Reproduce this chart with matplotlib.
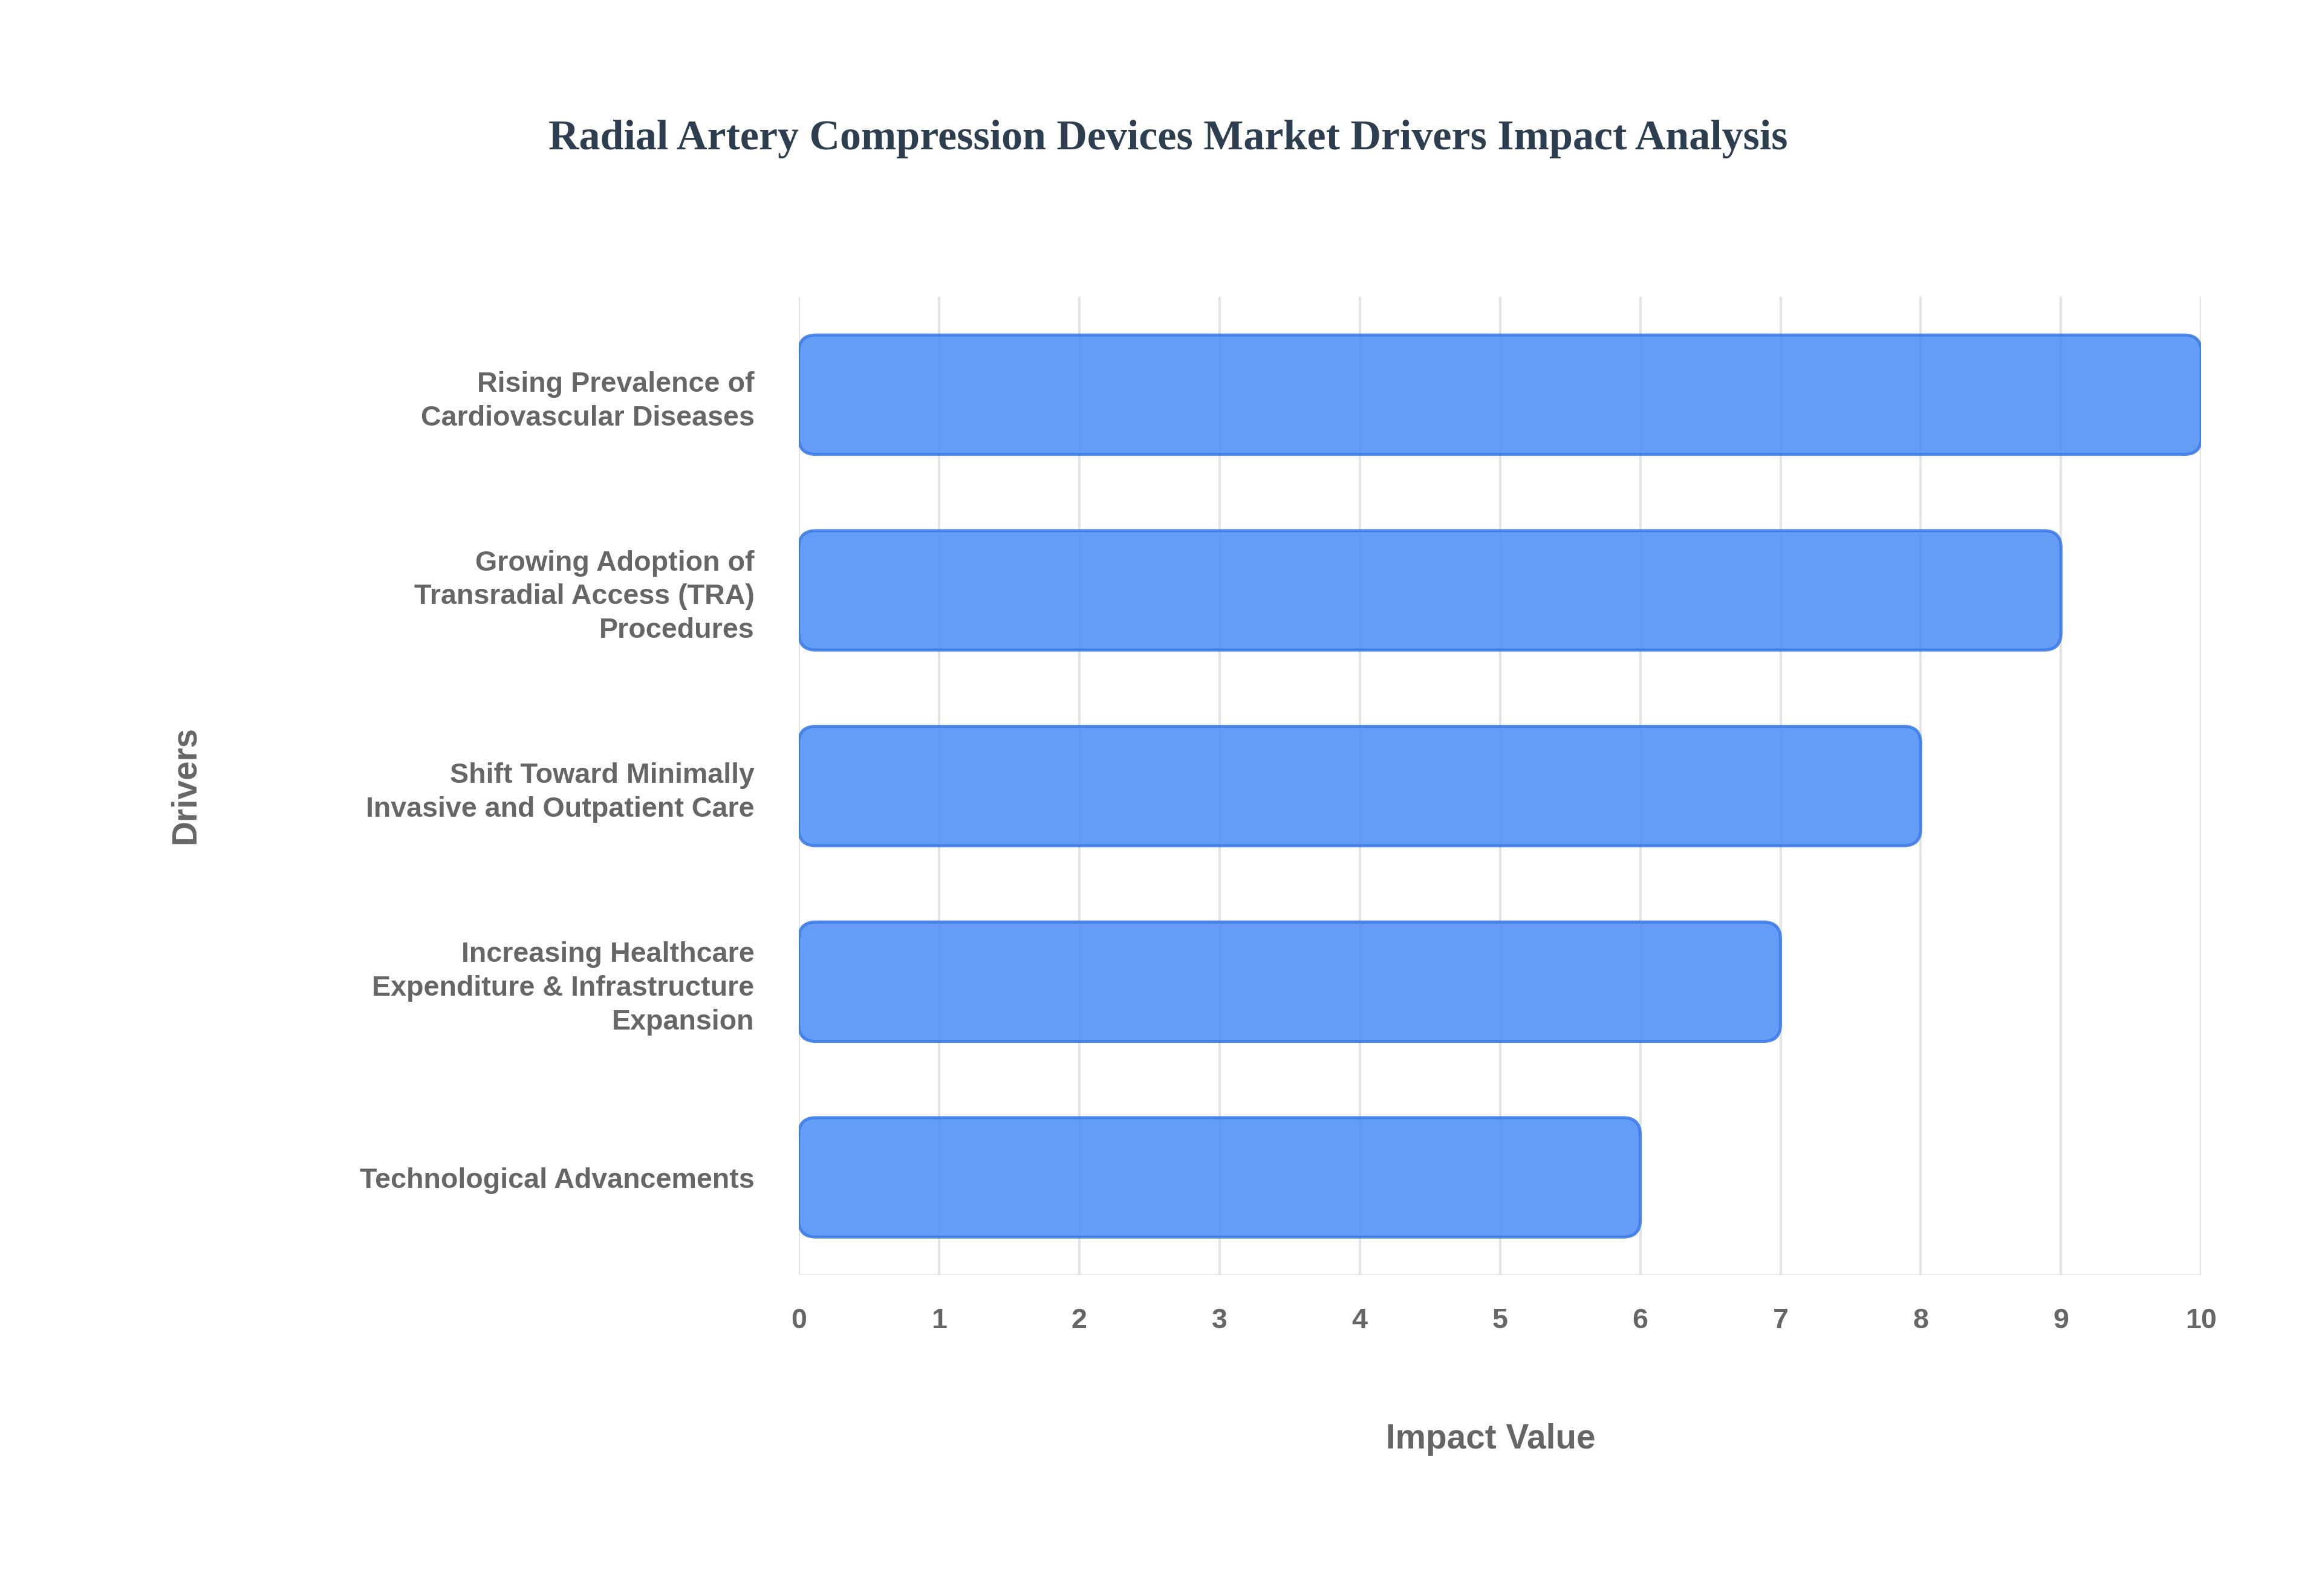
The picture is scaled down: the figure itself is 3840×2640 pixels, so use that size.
import matplotlib
matplotlib.use("Agg")
import matplotlib.pyplot as plt
from matplotlib.patches import FancyBboxPatch

# data
drivers = [
    "Rising Prevalence of\nCardiovascular Diseases",
    "Growing Adoption of\nTransradial Access (TRA)\nProcedures",
    "Shift Toward Minimally\nInvasive and Outpatient Care",
    "Increasing Healthcare\nExpenditure & Infrastructure\nExpansion",
    "Technological Advancements",
]
impact = [10, 9, 8, 7, 6]
x_ticks = list(range(0, 11))

fig = plt.figure(figsize=(16, 11), dpi=240)
ax = fig.add_axes([0.344, 0.201, 0.604, 0.613])

ypos = list(range(len(drivers)))[::-1]
bh = 0.61
for y, v in zip(ypos, impact):
    p = FancyBboxPatch((0, y - bh / 2), v, bh,
                       boxstyle="round,pad=0,rounding_size=0.12",
                       mutation_aspect=0.72,
                       facecolor="#4f8ef5", alpha=0.88,
                       edgecolor="#3b7be8", linewidth=1.5, zorder=3)
    ax.add_patch(p)

ax.set_xlim(0, 10)
ax.set_ylim(-0.5, 4.5)
ax.set_xticks(x_ticks)
ax.set_yticks(ypos)
ax.set_yticklabels(drivers)
ax.grid(axis="x", color="#e3e3e3", linewidth=1.2, zorder=0)
for s in ax.spines.values():
    s.set_visible(False)
ax.axvline(0, color="#dddddd", linewidth=1.2, zorder=1)
ax.axhline(-0.5, color="#eeeeee", linewidth=1.2, zorder=1)
ax.tick_params(axis="both", length=0, labelcolor="#666666")
ax.tick_params(axis="x", pad=16)
ax.tick_params(axis="y", pad=22)
for lab in ax.get_xticklabels() + ax.get_yticklabels():
    lab.set_fontfamily("Liberation Sans")
    lab.set_fontweight("bold")
    lab.set_fontsize(14)
for lab in ax.get_yticklabels():
    lab.set_linespacing(1.35)

fig.text(0.642, 0.098, "Impact Value", ha="center", va="center",
         fontsize=17, fontweight="bold", color="#666666", family="Liberation Sans")
fig.text(0.08, 0.508, "Drivers", ha="center", va="center", rotation=90,
         fontsize=17, fontweight="bold", color="#666666", family="Liberation Sans")
fig.text(0.503, 0.913, "Radial Artery Compression Devices Market Drivers Impact Analysis",
         ha="center", va="center", fontsize=21, fontweight="bold",
         color="#2c3e50", family="Liberation Serif")

fig.savefig("out.png", dpi=240, facecolor="white")
